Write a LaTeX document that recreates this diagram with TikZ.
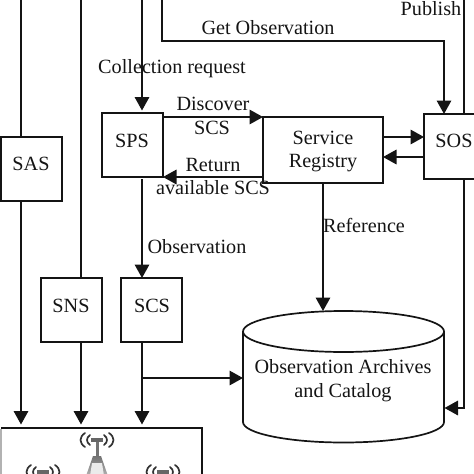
\documentclass[tikz,border=0pt]{standalone}
\usepackage{fontspec}
\setmainfont{Liberation Serif}
\usetikzlibrary{arrows.meta}
\definecolor{ink}{gray}{0.08}
\tikzset{
  pxl/.style={x=1pt,y=-1pt},
  wire/.style={line width=1.7pt,draw=ink},
  arr/.style={wire,-{Triangle[length=13.5pt,width=14.5pt]}},
  boxn/.style={draw=ink,line width=1.7pt,inner sep=0pt,outer sep=0pt,anchor=north west},
  lab/.style={inner sep=0pt,align=center,text=ink,font=\fontsize{20.2}{23.5}\selectfont},
  wave/.style={line width=1.7pt,draw=black!80,line cap=round}
}
\newcommand{\radiowaves}[2]{%
  \draw[wave] (#1-7,#2-5) .. controls (#1-11,#2-2) and (#1-11,#2+2) .. (#1-7,#2+5);
  \draw[wave] (#1-12,#2-7) .. controls (#1-18,#2-3) and (#1-18,#2+3) .. (#1-12,#2+7);
  \draw[wave] (#1+7,#2-5) .. controls (#1+11,#2-2) and (#1+11,#2+2) .. (#1+7,#2+5);
  \draw[wave] (#1+12,#2-7) .. controls (#1+18,#2-3) and (#1+18,#2+3) .. (#1+12,#2+7);
}
\begin{document}
\begin{tikzpicture}[pxl]
\useasboundingbox (0,0) rectangle (474,474);
\begin{scope}
\clip (0,0) rectangle (474,474);
% boxes
\node[boxn,minimum width=61pt,minimum height=64pt] (sas) at (1,137) {};
\node[boxn,minimum width=61pt,minimum height=64pt] (sps) at (102,113) {};
\node[boxn,minimum width=61pt,minimum height=64pt] (sns) at (41,278) {};
\node[boxn,minimum width=61pt,minimum height=64pt] (scs) at (121,278) {};
\node[boxn,minimum width=120pt,minimum height=66pt] (reg) at (263,117) {};
\node[boxn,minimum width=70pt,minimum height=65pt] (sos) at (424,114) {};
\node[lab] (tsas) at (31,164) {SAS};
\node[lab] (tsps) at (132,141) {SPS};
\node[lab] (tsns) at (71,306) {SNS};
\node[lab] (tscs) at (152,306) {SCS};
\node[lab] (tsos) at (454,141) {SOS};
\node[lab] (treg) at (323,151.5) {Service\\Registry};
% sensor field
\draw[wire] (202,490) -- (202,428) -- (1,428);
\draw[line width=2pt,draw=black!30] (1,429) -- (1,474);
% archive
\draw[wire,fill=white] (243,331.5) -- (243,422) arc[start angle=180,end angle=360,x radius=100.5pt,y radius=20.5pt] -- (444,331.5);
\draw[wire] (343.5,331.5) ellipse[x radius=100.5pt,y radius=20.5pt];
\node[lab] (tarc) at (343,380.5) {Observation Archives\\and Catalog};
\coordinate (arcT) at (323,311);
\coordinate (arcL) at (243,378);
\coordinate (arcR) at (444.5,408);
% connector ends
\coordinate (t21) at (21,-2);
\coordinate (t81) at (81,-2);
\coordinate (t142) at (142,-2);
\coordinate (t162) at (162,-2);
\coordinate (t464) at (464,-2);
\coordinate (f21) at (21,424.5);
\coordinate (f81) at (81,424.5);
\coordinate (f142) at (142,424.5);
\coordinate (scsjoin) at (142,378);
\draw[wire] (t21) -- (t21 |- sas.north);
\draw[arr] (t21 |- sas.south) -- (f21);
\draw[wire] (t81) -- (t81 |- sns.north);
\draw[arr] (t81 |- sns.south) -- (f81);
\draw[arr] (t142 |- scs.south) -- (f142);
\draw[arr] (scsjoin) -- (arcL);
\draw[arr] (t142) -- ([yshift=2.5pt]t142 |- sps.north);
\draw[arr] ([yshift=-2pt]t142 |- sps.south) -- (t142 |- scs.north);
\draw[arr] (t162) -- (162,41) -- (444,41) -- (444,114 -| 444,114);
\draw[wire] (t464) -- (t464 |- sos.north);
\draw[arr] (t464 |- sos.south) -- (464,408) -- (arcR);
\draw[arr] (sps.north east |- 0,117) -- (reg.north west);
\draw[arr] (reg.west |- 0,177) -- (sps.south east);
\draw[arr] (reg.east |- 0,137) -- (sos.west |- 0,137);
\draw[arr] (sos.west |- 0,157) -- (reg.east |- 0,157);
\draw[arr] (reg.south) -- (arcT);
% labels
\node[lab] (lget) at (268,28) {Get Observation};
\node[lab] (lpub) at (431,9) {Publish};
\node[lab] (lcol) at (172,69) {Collection request};
\node[lab] (ldis) at (213,104) {Discover};
\node[lab] (lscs) at (212,128) {SCS};
\node[lab] (lret) at (213,165) {Return};
\node[lab] (lava) at (213,188) {available SCS};
\node[lab] (lobs) at (197,247) {Observation};
\node[lab] (lref) at (364,225) {Reference};
% antennas
\radiowaves{97}{440}
\radiowaves{43}{472}
\radiowaves{163}{472}
\shade[top color=black!55,bottom color=black!30] (93,456) -- (101,456) -- (108,476) -- (86,476) -- cycle;
\fill[black!8] (92,463) -- (102,463) -- (104,476) -- (90,476) -- cycle;
\draw[line width=3pt,draw=black!55] (97,441) -- (97,457);
\fill[black!60] (91,438) rectangle (103,441.5);
\fill[black!60] (37,470) rectangle (49,476);
\fill[black!60] (157,470) rectangle (169,476);
\end{scope}
\end{tikzpicture}
\end{document}
